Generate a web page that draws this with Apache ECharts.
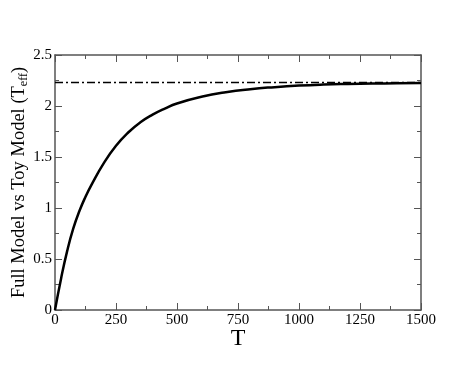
<!DOCTYPE html>
<html><head><meta charset="utf-8">
<script src="https://cdn.jsdelivr.net/npm/echarts@6/dist/echarts.min.js"></script>
<style>html,body{margin:0;padding:0;background:#fff}#c{width:474px;height:366px}</style>
</head><body><div id="c"></div>
<script>
const T = [0,25,50,75,100,125,150,200,250,300,350,400,450,500,600,700,800,900,1000,1100,1200,1300,1400,1500];
const fullModel = [0,0.31,0.58,0.80,0.97,1.11,1.23,1.44,1.61,1.74,1.84,1.915,1.975,2.025,2.09,2.135,2.165,2.185,2.20,2.21,2.216,2.22,2.223,2.225];
const asymptoteT = [0,1500];
const asymptoteV = [2.23,2.23];
const xTicks = [0,250,500,750,1000,1250,1500];
const yTicks = [0,0.5,1,1.5,2,2.5];

const font = 'Liberation Serif';
const axisCol = '#555';
const chart = echarts.init(document.getElementById('c'));
const baseAxis = {
  axisLine:{show:true,onZero:false,lineStyle:{color:axisCol,width:1.5}},
  axisTick:{show:true,inside:true,length:7,lineStyle:{color:axisCol,width:1}},
  minorTick:{show:true,splitNumber:2,length:4,lineStyle:{color:axisCol,width:1}},
  splitLine:{show:false}
};
chart.setOption({
  animation:false,
  grid:{left:55,right:53,top:55,bottom:56,containLabel:false,outerBoundsMode:'none'},
  xAxis:[
    Object.assign({type:'value',min:xTicks[0],max:xTicks[xTicks.length-1],interval:250,position:'bottom',
      name:'T',nameLocation:'middle',nameGap:17,nameMoveOverlap:false,
      nameTextStyle:{fontFamily:font,fontSize:24,color:'#000'},
      axisLabel:{fontFamily:font,fontSize:15,color:'#000',margin:3,formatter:v=>String(v)}},baseAxis),
    Object.assign({type:'value',min:xTicks[0],max:xTicks[xTicks.length-1],interval:250,position:'top',
      axisLabel:{show:false}},baseAxis)
  ],
  yAxis:[
    Object.assign({type:'value',min:yTicks[0],max:yTicks[yTicks.length-1],interval:0.5,position:'left',
      name:'{a|Full Model vs Toy Model (T}{s|eff}{a|)}',nameLocation:'middle',nameGap:25,nameRotate:90,nameMoveOverlap:false,
      nameTextStyle:{fontFamily:font,fontSize:18.5,color:'#000',
        rich:{a:{fontFamily:font,fontSize:18.5,color:'#000'},
              s:{fontFamily:font,fontSize:12,color:'#000',padding:[10,0,0,0]}}},
      axisLabel:{fontFamily:font,fontSize:15,color:'#000',margin:3,
        formatter:v=>String(v)}},baseAxis),
    Object.assign({type:'value',min:yTicks[0],max:yTicks[yTicks.length-1],interval:0.5,position:'right',
      axisLabel:{show:false}},baseAxis)
  ],
  series:[
    {type:'line',data:T.map((t,i)=>[t,fullModel[i]]),smooth:0.5,showSymbol:false,
     lineStyle:{color:'#000',width:2.5}},
    {type:'line',data:asymptoteT.map((t,i)=>[t,asymptoteV[i]]),showSymbol:false,
     lineStyle:{color:'#000',width:1.5,type:[8,3,2,3]}}
  ]
});
</script></body></html>
